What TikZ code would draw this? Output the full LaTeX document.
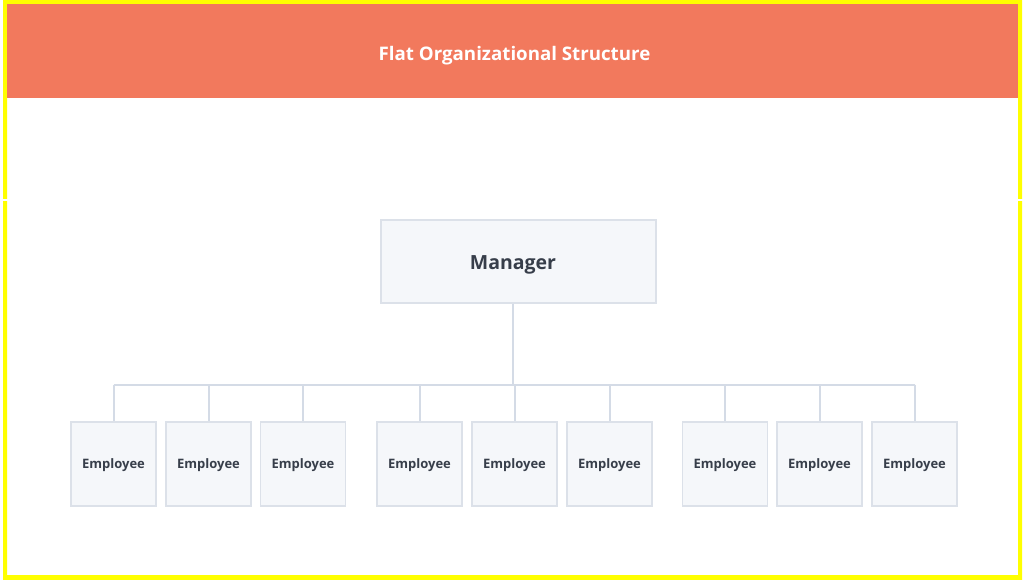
\documentclass[tikz,border=0pt]{standalone}
\usepackage{fontspec}
\setmainfont{Open Sans}
\usetikzlibrary{positioning,calc}

\definecolor{headorange}{RGB}{242,121,93}
\definecolor{boxfill}{RGB}{245,247,250}
\definecolor{boxline}{RGB}{220,225,233}
\definecolor{linkgray}{RGB}{212,219,230}
\definecolor{textdark}{RGB}{55,62,74}
\definecolor{framey}{RGB}{255,255,0}

\tikzset{
	orgbox/.style={draw=boxline, fill=boxfill, line width=1.2pt, text=textdark, font=\bfseries, inner sep=0pt, text height=1em, text depth=0.12em},
	empbox/.style={orgbox, minimum width=85pt, minimum height=84pt, font=\bfseries\fontsize{13}{16}\selectfont},
	mgrbox/.style={orgbox, minimum width=275pt, minimum height=83pt},
	mgrtext/.style={text=textdark, font=\bfseries\fontsize{19.5}{24}\selectfont},
	link/.style={draw=linkgray, line width=2pt}
}

\begin{document}
\begin{tikzpicture}[x=1pt,y=-1pt]
			\useasboundingbox (0,0) rectangle (1024,580);
			\begin{scope}
				% frame and header
				\fill[white] (0,0) rectangle (1024,580);
				\fill[framey, even odd rule] (3,0) rectangle (1022,580) (7,4) rectangle (1018,575);
				\fill[white] (0,198.5) rectangle (1024,200.5);
				\fill[headorange] (7,4) rectangle (1018,98.5);
				\node[text=white, font=\bfseries\fontsize{18.7}{23}\selectfont] (title) at (514.5,56) {Flat Organizational Structure};
				
				% manager
				\node[mgrbox, label={[mgrtext, xshift=-5.5pt, yshift=-3pt]center:Manager}] (mgr) at (518.5,261.5) {};
				\coordinate (bus) at (513,384.5);
				
				% employees
				\foreach \x [count=\i] in {113.5,208.5,303,419.5,514.5,609.5,725,819.5,914.5}
					\node[empbox] (e\i) at (\x,464) {Employee};
				
				\draw[link] (mgr.south -| bus) -- (bus);
				\draw[link] (e1.north |- bus) -- (e9.north |- bus);
				\foreach \i in {1,...,9}
					\draw[link] (e\i.north |- bus) -- (e\i.north);
			\end{scope}
		\end{tikzpicture}
\end{document}
